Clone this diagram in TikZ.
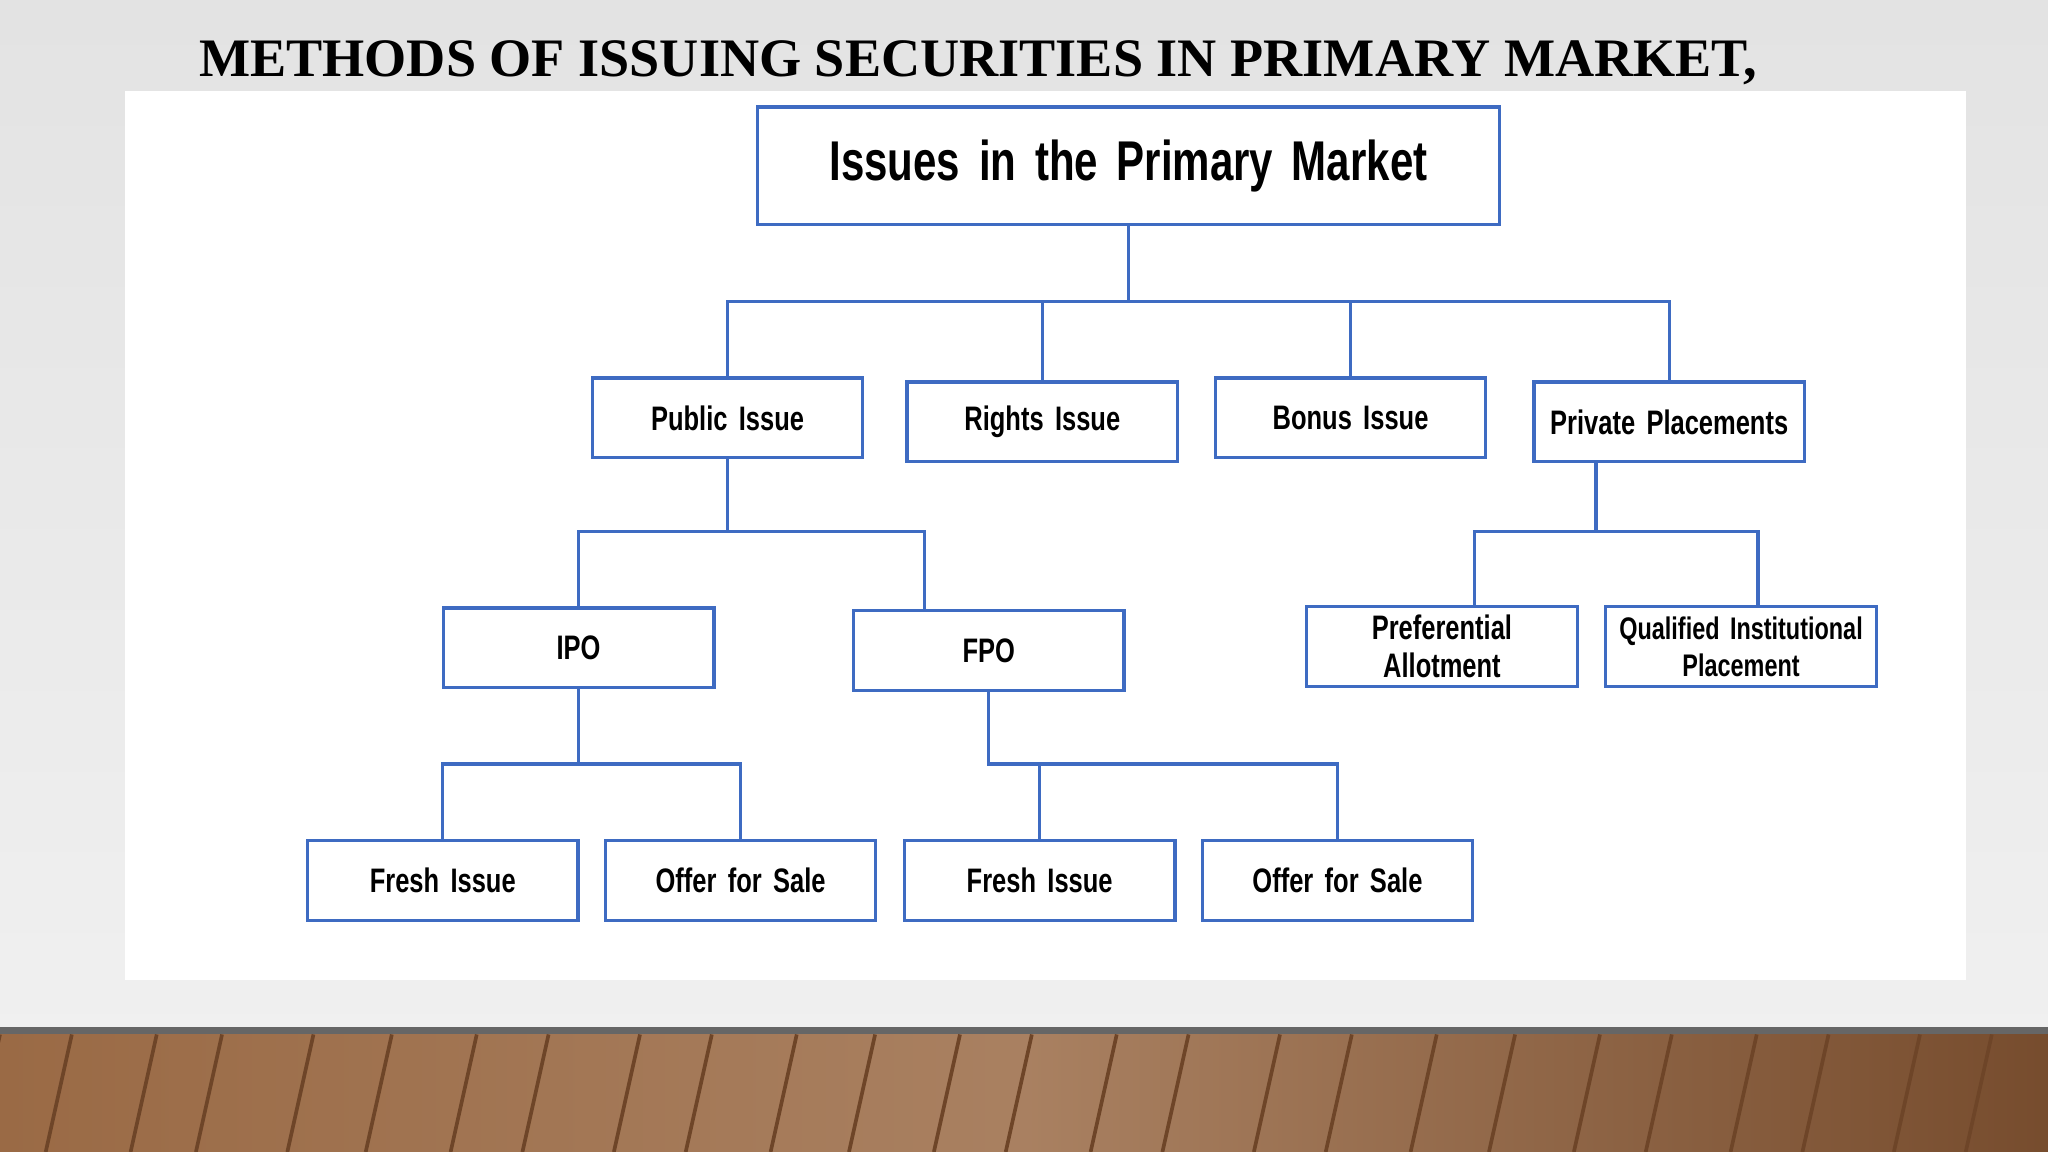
\documentclass[tikz,border=0pt]{standalone}
\usepackage{fontspec}
\setmainfont{Liberation Serif}
\newfontfamily\boxfont[FakeStretch=0.75,WordSpace=0.6]{Liberation Sans}
\definecolor{lineblue}{HTML}{3E6BC2}
\definecolor{wood}{HTML}{9A6A45}
\definecolor{woodd}{HTML}{6E4528}
\tikzset{
  bx/.style={draw=lineblue,line width=0.7pt,fill=white,minimum width=2.07cm,minimum height=0.61cm,text width=2cm,align=center,font=\boxfont\bfseries\fontsize{7.4}{8.4}\selectfont,inner sep=1pt},
  ln/.style={draw=lineblue,line width=0.7pt}
}
\begin{document}
\begin{tikzpicture}[x=0.01cm,y=-0.01cm]
\useasboundingbox (0,0) rectangle (1568,882);
\shade[top color=gray!22,bottom color=gray!12] (0,0) rectangle (1568,788);
\shade[left color=wood,right color=woodd!80!wood,middle color=wood!85!white] (0,788) rectangle (1568,882);
\fill[black!60] (0,786) rectangle (1568,792);
\foreach \x in {0,55,120,170,240,300,365,420,490,545,610,670,735,790,855,910,980,1035,1100,1160,1225,1280,1345,1400,1470,1525}
  \draw[woodd,line width=0.8pt] (\x,792) -- (\x-20,882);
\fill[white] (96,70) rectangle (1505,750);
\node[font=\bfseries\fontsize{11.8}{14}\selectfont,anchor=west] (title) at (140,48) {METHODS OF ISSUING SECURITIES IN PRIMARY MARKET,};
\node[bx,minimum width=5.68cm,minimum height=0.9cm,text width=5.5cm,font=\boxfont\bfseries\fontsize{12.2}{14}\selectfont] (root) at (864,127) {Issues in the Primary Market};
\node[bx] (pub) at (557,320) {Public Issue};
\node[bx] (rig) at (798,323) {Rights Issue};
\node[bx] (bon) at (1034,320) {Bonus Issue};
\node[bx] (pri) at (1278,323) {Private Placements};
\node[bx] (ipo) at (443,496) {IPO};
\node[bx] (fpo) at (757,498) {FPO};
\node[bx] (pref) at (1104,495) {Preferential\\Allotment};
\node[bx,font=\boxfont\bfseries\fontsize{6.8}{8}\selectfont] (qip) at (1333,495) {Qualified Institutional\\Placement};
\node[bx] (f1) at (339,674) {Fresh Issue};
\node[bx] (o1) at (567,674) {Offer for Sale};
\node[bx] (f2) at (796,674) {Fresh Issue};
\node[bx] (o2) at (1024,674) {Offer for Sale};
\coordinate (j1) at (864,231);
\draw[ln] (root.south) -- (j1);
\draw[ln] (pub.north) |- (j1) -| (pri.north);
\draw[ln] (rig.north) -- (rig.north |- j1);
\draw[ln] (bon.north) -- (bon.north |- j1);
\coordinate (j2) at (557,407);
\draw[ln] (pub.south) -- (j2);
\draw[ln] (ipo.north) |- (j2) -| (708,467);
\coordinate (j3) at (1222,407);
\draw[ln] (1222,354) -- (j3);
\draw[ln] (pref.north -| 1129,0) |- (j3) -| (1346,464);
\coordinate (j4) at (443,585);
\draw[ln] (ipo.south) -- (j4);
\draw[ln] (f1.north) |- (j4) -| (o1.north);
\coordinate (j5) at (757,585);
\draw[ln] (fpo.south) -- (j5) -| (o2.north);
\draw[ln] (f2.north) -- (f2.north |- j5);
\end{tikzpicture}
\end{document}
